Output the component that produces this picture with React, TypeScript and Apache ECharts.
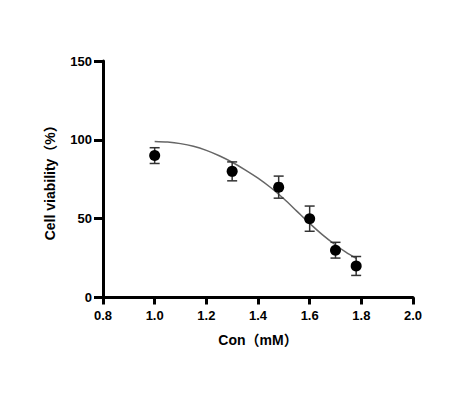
import React, { useEffect, useRef } from "react";
import * as echarts from "echarts";

const doseX = [1.0, 1.3, 1.48, 1.6, 1.7, 1.78];
const viability = [90, 80, 70, 50, 30, 20];
const errorSD = [5, 6, 7, 8, 5, 6];

const curveX = [1.0, 1.05, 1.1, 1.15, 1.2, 1.25, 1.3, 1.35, 1.4, 1.45, 1.5, 1.55, 1.6, 1.65, 1.7, 1.74, 1.78];
const curveY = [99, 98.6, 97.6, 95.9, 93.3, 89.9, 85.8, 81, 75.7, 69.6, 62.6, 54.8, 47, 39.7, 33.3, 28.8, 24.8];

const xTicks = { min: 0.8, max: 2.0, interval: 0.2 };
const yTicks = { min: 0, max: 150, interval: 50 };

export default function App() {
  const ref = useRef<HTMLDivElement>(null);
  useEffect(() => {
    document.body.style.margin = "0";
    const chart = echarts.init(ref.current!, null, { renderer: "svg" });
    const font = "'Liberation Sans', Arial, 'Noto Sans CJK SC', sans-serif";
    const errData = doseX.map((x, i) => [x, viability[i] - errorSD[i], viability[i] + errorSD[i]]);
    chart.setOption({
      animation: false,
      backgroundColor: "#fff",
      grid: { left: 103, right: 52, top: 61, bottom: 115.5, containLabel: false },
      xAxis: {
        type: "value",
        min: xTicks.min,
        max: xTicks.max,
        interval: xTicks.interval,
        name: "Con（mM）",
        nameLocation: "middle",
        nameGap: 35,
        nameTextStyle: { fontFamily: font, fontWeight: "bold", fontSize: 14, color: "#000" },
        axisLine: { onZero: false, lineStyle: { color: "#000", width: 3 } },
        axisTick: { length: 7, lineStyle: { color: "#000", width: 3 } },
        axisLabel: {
          margin: 11,
          fontFamily: font,
          fontWeight: "bold",
          fontSize: 13,
          color: "#000",
          formatter: (v: number) => v.toFixed(1),
        },
        splitLine: { show: false },
      },
      yAxis: {
        type: "value",
        min: yTicks.min,
        max: yTicks.max,
        interval: yTicks.interval,
        name: "Cell viability（%）",
        nameLocation: "middle",
        nameGap: 46,
        nameTextStyle: { fontFamily: font, fontWeight: "bold", fontSize: 14, color: "#000" },
        axisLine: { show: true, onZero: false, lineStyle: { color: "#000", width: 3 } },
        axisTick: { show: true, length: 9, lineStyle: { color: "#000", width: 3 } },
        axisLabel: { margin: 11, fontFamily: font, fontWeight: "bold", fontSize: 13, color: "#000" },
        splitLine: { show: false },
      },
      series: [
        {
          type: "line",
          data: curveX.map((x, i) => [x, curveY[i]]),
          smooth: 0.3,
          showSymbol: false,
          lineStyle: { color: "#666", width: 1.5 },
          z: 1,
        },
        {
          type: "custom",
          data: errData,
          z: 2,
          renderItem: (params: any, api: any) => {
            const x = api.value(0);
            const lo = api.coord([x, api.value(1)]);
            const hi = api.coord([x, api.value(2)]);
            const hw = 5;
            const style = { stroke: "#333", lineWidth: 1.5 };
            return {
              type: "group",
              children: [
                { type: "line", shape: { x1: lo[0], y1: lo[1], x2: hi[0], y2: hi[1] }, style },
                { type: "line", shape: { x1: lo[0] - hw, y1: lo[1], x2: lo[0] + hw, y2: lo[1] }, style },
                { type: "line", shape: { x1: hi[0] - hw, y1: hi[1], x2: hi[0] + hw, y2: hi[1] }, style },
              ],
            };
          },
        },
        {
          type: "scatter",
          data: doseX.map((x, i) => [x, viability[i]]),
          symbol: "circle",
          symbolSize: 11,
          itemStyle: { color: "#000", opacity: 1 },
          emphasis: { disabled: true },
          z: 3,
        },
      ],
    });
    return () => chart.dispose();
  }, []);
  return <div ref={ref} style={{ width: 465, height: 413 }} />;
}
